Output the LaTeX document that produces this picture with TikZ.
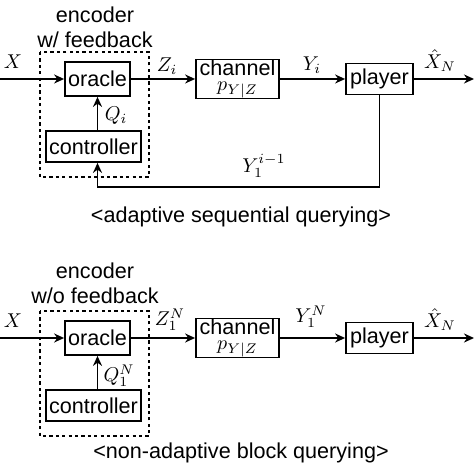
\documentclass[tikz,border=0pt]{standalone}
\usepackage{fontspec}
\setmainfont{Liberation Sans}
\usetikzlibrary{positioning,arrows.meta}
\begin{document}
\begin{tikzpicture}[x=0.5pt, y=-0.5pt, line width=0.9pt, >={Stealth[length=5pt,width=4.5pt]},
	block/.style={draw, inner sep=0pt, font=\fontsize{10.8}{11}\selectfont},
	lbl/.style={inner sep=1pt, font=\fontsize{9.8}{11}\selectfont},
	txt/.style={align=center, inner sep=0pt, font=\fontsize{10.8}{12.5}\selectfont},
	encbox/.style={line width=0.7pt, dash pattern=on 1.6pt off 1.6pt}]
	% Fix the picture size (pixel units of the reference)
	\useasboundingbox (0,0) rectangle (474,474);
	
	% Rows of the two schemes
	\def\yA{79} \def\yB{338}
	
	% ---------- adaptive sequential querying ----------
	\node[txt] (encA) at (95,27) {encoder\\w/ feedback};
	\draw[encbox] (40,52) rectangle (149,177);
	\node[block, minimum width=32.5pt, minimum height=17pt] (orA) at (97.5,\yA) {oracle};
	\node[block, minimum width=47.5pt, minimum height=15.5pt] (ctA) at (93.5,146.5) {controller};
	\node[block, minimum width=41.5pt, minimum height=19.5pt, align=center] (chA) at (237.5,\yA)
		{channel\\[-3.5pt]\fontsize{9.8}{10}\selectfont$p_{Y|Z}$};
	\node[block, minimum width=33.5pt, minimum height=15.5pt] (plA) at (379.5,\yA) {player};
	\coordinate (inA) at (0,\yA);
	\coordinate (outA) at (474,\yA);
	\coordinate (fbA) at (0,187);
	
	\draw[->] (inA) -- (orA);
	\draw[->] (orA) -- (chA);
	\draw[->] (chA) -- (plA);
	\draw[->] (plA) -- (outA);
	\draw[->] (ctA.north -| orA) -- (orA);
	% feedback of past outputs
	\draw[->] (plA.south) |- (fbA -| orA) -- (ctA.south -| orA);
	
	\node[lbl] (xA) at (13,62) {$X$};
	\node[lbl] (zA) at (167,66) {$Z_i$};
	\node[lbl] (qA) at (116,116) {$Q_i$};
	\node[lbl] (yA) at (312,65) {$Y_i$};
	\node[lbl] (hA) at (440,61) {$\hat{X}_N$};
	\node[lbl] (fA) at (264,166) {$Y_1^{i-1}$};
	\node[txt] (capA) at (241,217) {<adaptive sequential querying>};
	
	% ---------- non-adaptive block querying ----------
	\node[txt] (encB) at (95,283) {encoder\\w/o feedback};
	\draw[encbox] (40,311) rectangle (149,436);
	\node[block, minimum width=32.5pt, minimum height=17pt] (orB) at (97.5,\yB) {oracle};
	\node[block, minimum width=47.5pt, minimum height=15.5pt] (ctB) at (93.5,405.5) {controller};
	\node[block, minimum width=41.5pt, minimum height=19.5pt, align=center] (chB) at (237.5,\yB)
		{channel\\[-3.5pt]\fontsize{9.8}{10}\selectfont$p_{Y|Z}$};
	\node[block, minimum width=33.5pt, minimum height=15.5pt] (plB) at (379.5,\yB) {player};
	\coordinate (inB) at (0,\yB);
	\coordinate (outB) at (474,\yB);
	
	\draw[->] (inB) -- (orB);
	\draw[->] (orB) -- (chB);
	\draw[->] (chB) -- (plB);
	\draw[->] (plB) -- (outB);
	\draw[->] (ctB.north -| orB) -- (orB);
	
	\node[lbl] (xB) at (13,321) {$X$};
	\node[lbl] (zB) at (170,320) {$Z_1^N$};
	\node[lbl] (qB) at (119,376) {$Q_1^N$};
	\node[lbl] (yB) at (311,317) {$Y_1^N$};
	\node[lbl] (hB) at (440,320) {$\hat{X}_N$};
	\node[txt] (capB) at (241,453) {<non-adaptive block querying>};
\end{tikzpicture}
\end{document}
